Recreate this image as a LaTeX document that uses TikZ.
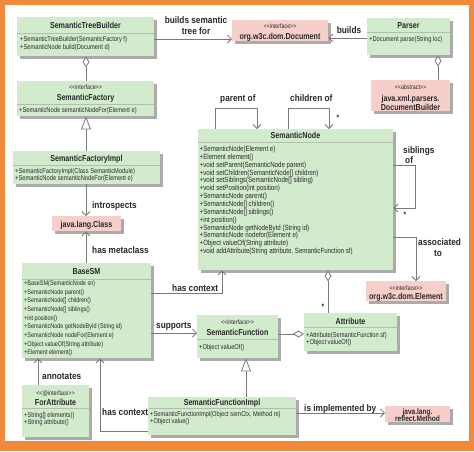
\documentclass[tikz,border=0pt]{standalone}
\usepackage{fontspec}
\setmainfont{Liberation Sans}
\newfontfamily\cfont[FakeStretch=0.82]{Liberation Sans}
\newfontfamily\lfont[FakeStretch=0.87]{Liberation Sans}
\usetikzlibrary{arrows.meta,shadows}
\definecolor{umlgreen}{HTML}{D3EBCD}
\definecolor{umlpink}{HTML}{F6CFCB}
\definecolor{frameorange}{HTML}{F08A3A}
\definecolor{linegray}{HTML}{7A7A7A}
\definecolor{shadowgray}{HTML}{ABABAB}
\definecolor{divgray}{HTML}{AFBFAB}
\definecolor{txt}{HTML}{282828}
\tikzset{
  box/.style={draw=none, fill=umlgreen, inner sep=0pt, anchor=north west,
    drop shadow={shadow xshift=2.5pt, shadow yshift=-2.5pt, fill=shadowgray, opacity=1}},
  pinkbox/.style={box, fill=umlpink},
  divider/.style={draw=divgray, line width=0.6pt},
  ttl/.style={inner sep=0pt, anchor=base, text=txt, font=\cfont\bfseries\fontsize{8.7}{10}\selectfont},
  stereo/.style={inner sep=0pt, anchor=base, text=txt, font=\cfont\fontsize{6.5}{7}\selectfont},
  mtext/.style={inner sep=0pt, anchor=north west, align=left, text=txt},
  lbl/.style={inner sep=0pt, anchor=base west, text=txt, font=\lfont\bfseries\fontsize{9.5}{11}\selectfont},
  mult/.style={inner sep=0pt, text=txt, font=\cfont\bfseries\fontsize{8}{9}\selectfont},
  conn/.style={draw=linegray, line width=0.8pt},
  arr/.style={conn, -{Straight Barb[length=4pt,width=8pt,line width=0.8pt]}},
  dstart/.style={conn, {Diamond[fill=white,length=11pt,width=7pt,line width=0.8pt]}-},
  dend/.style={conn, -{Diamond[fill=white,length=11pt,width=7pt,line width=0.8pt]}},
  tri/.style={conn, -{Triangle[fill=white,length=13pt,width=10pt,line width=0.8pt]}},
}
\newcommand\mfs[1]{\cfont\fontsize{7}{#1}\selectfont}
\newcommand\mfz[2]{\cfont\fontsize{#1}{#2}\selectfont}
\begin{document}
\begin{tikzpicture}[x=1pt,y=-1pt]
\useasboundingbox (0,0) rectangle (474,451);
\fill[frameorange] (0,0) rectangle (474,451);
\fill[white] (5,5) rectangle (469,441);

% ---------- boxes ----------
\node[box, minimum width=137pt, minimum height=39pt] (stb) at (17,17) {};
\draw[divider] (stb.west |- 0,33) -- (stb.east |- 0,33);
\node[ttl] (stbt) at (85.5,28) {SemanticTreeBuilder};
\node[mtext, font=\mfs{8}] (stbm) at (20,36) {+SemanticTreeBuilder(SemanticFactory f)\\+SemanticNode build(Document d)};

\node[box, minimum width=137pt, minimum height=35pt] (sf) at (17,81) {};
\draw[divider] (sf.west |- 0,104) -- (sf.east |- 0,104);
\node[stereo] (sfs) at (85.5,89.3) {<{}<interface>{}>};
\node[ttl] (sft) at (85.5,100.6) {SemanticFactory};
\node[mtext, font=\mfs{8}] (sfm) at (19,107) {+SemanticNode semanticNodeFor(Element e)};

\node[box, minimum width=147pt, minimum height=33pt] (sfi) at (13,151) {};
\draw[divider] (sfi.west |- 0,165) -- (sfi.east |- 0,165);
\node[ttl] (sfit) at (86.5,161) {SemanticFactoryImpl};
\node[mtext, font=\mfs{7.7}] (sfim) at (15,168) {+SemanticFactoryImpl(Class SemanticModule)\\+SemanticNode semanticNodeFor(Element e)};

\node[pinkbox, minimum width=69pt, minimum height=15pt] (jlc) at (52,216) {};
\node[ttl] (jlct) at (86.5,227) {java.lang.Class};

\node[box, minimum width=129pt, minimum height=95pt] (basesm) at (22,263) {};
\draw[divider] (basesm.west |- 0,279) -- (basesm.east |- 0,279);
\node[ttl] (basesmt) at (86.5,274.6) {BaseSM};
\node[mtext, font={\mfz{6.7}{8.67}}] (basesmm) at (24,280.5) {+BaseSM(SemanticNode sn)\\+SemanticNode parent()\\+SemanticNode[] children()\\+SemanticNode[] siblings()\\+int position()\\+SemanticNode getNodeById (String id)\\+SemanticNode nodeFor(Element e)\\+Object valueOf(String attribute)\\+Element element()};

\node[box, minimum width=67pt, minimum height=52pt] (fa) at (22,385) {};
\draw[divider] (fa.west |- 0,408) -- (fa.east |- 0,408);
\node[stereo] (fas) at (55.5,395.3) {<{}<@interface>{}>};
\node[ttl] (fat) at (55.5,405) {ForAttribute};
\node[mtext, font=\mfs{7.5}] (fam) at (24,412) {+String[] elements()\\+String attribute()};

\node[box, minimum width=148pt, minimum height=38pt] (sfimpl) at (148,397) {};
\draw[divider] (sfimpl.west |- 0,408) -- (sfimpl.east |- 0,408);
\node[ttl] (sfimplt) at (222,405.5) {SemanticFunctionImpl};
\node[mtext, font=\mfs{7.3}] (sfimplm) at (150,411) {+SemanticFunctionImpl(Object semCtx, Method m)\\+Object value()};

\node[pinkbox, minimum width=65pt, minimum height=16pt] (jlrm) at (385,406) {};
\node[ttl, font=\cfont\bfseries\fontsize{8}{9}\selectfont] (jlrm1) at (417.5,414.6) {java.lang.};
\node[ttl, font=\cfont\bfseries\fontsize{8}{9}\selectfont] (jlrm2) at (417.5,421.9) {reflect.Method};

\node[box, minimum width=81pt, minimum height=43pt] (sfn) at (197,315) {};
\draw[divider] (sfn.west |- 0,339) -- (sfn.east |- 0,339);
\node[stereo] (sfns) at (237.5,324.3) {<{}<interface>{}>};
\node[ttl] (sfnt) at (237.5,335) {SemanticFunction};
\node[mtext, font=\mfs{8}] (sfnm) at (199,344) {+Object valueOf()};

\node[box, minimum width=93pt, minimum height=38pt] (attr) at (304,313) {};
\draw[divider] (attr.west |- 0,327) -- (attr.east |- 0,327);
\node[ttl] (attrt) at (350.5,324.6) {Attribute};
\node[mtext, font=\mfs{7.3}] (attrm) at (306,332) {+Attribute(SemanticFunction sf)\\+Object valueOf()};

\node[pinkbox, minimum width=80pt, minimum height=20pt] (elem) at (366,281) {};
\node[stereo] (elems) at (406,290.3) {<{}<interface>{}>};
\node[ttl] (elemt) at (406,299.6) {org.w3c.dom.Element};

\node[box, minimum width=195pt, minimum height=141pt] (sn) at (198,129) {};
\draw[divider] (sn.west |- 0,142) -- (sn.east |- 0,142);
\node[ttl] (snt) at (295.5,138) {SemanticNode};
\node[mtext, font={\mfz{7.5}{7.86}}] (snm) at (199.5,145.8) {+SemanticNode(Element e)\\+Element element()\\+void setParent(SemanticNode parent)\\+void setChildren(SemanticNode[] children)\\+void setSiblings(SemanticNode[] sibling)\\+void setPosition(int position)\\+SemanticNode parent()\\+SemanticNode[] children()\\+SemanticNode[] siblings()\\+int position()\\+SemanticNode getNodeById (String id)\\+SemanticNode nodefor(Element e)\\+Object valueOf(String attribute)\\+void addAttribute(String attribute, SemanticFunction sf)};

\node[pinkbox, minimum width=96pt, minimum height=21pt] (doc) at (232,20) {};
\node[stereo] (docs) at (280,28.8) {<{}<interface>{}>};
\node[ttl] (doct) at (280,39.6) {org.w3c.dom.Document};

\node[box, minimum width=83pt, minimum height=37pt] (parser) at (367,18) {};
\draw[divider] (parser.west |- 0,32) -- (parser.east |- 0,32);
\node[ttl] (parsert) at (408.5,28) {Parser};
\node[mtext, font=\mfs{8}] (parserm) at (369,36) {+Document parse(String loc)};

\node[pinkbox, minimum width=79pt, minimum height=31pt] (db) at (371,80) {};
\node[stereo] (dbs) at (410.5,89.3) {<{}<abstract>{}>};
\node[ttl] (db1) at (410.5,101) {java.xml.parsers.};
\node[ttl] (db2) at (410.5,110.6) {DocumentBuilder};

% ---------- connectors ----------
\draw[arr] (stb.east |- 0,39) -- (doc.west |- 0,39);
\node[lbl, anchor=base] (l1a) at (196,23.5) {builds semantic};
\node[lbl, anchor=base] (l1b) at (196,34.5) {tree for};

\draw[arr] (parser.west |- 0,38) -- (doc.east |- 0,38);
\node[lbl, anchor=base] (l2) at (349,33.4) {builds};

\draw[dstart] (stb.south -| 86,0) -- (sf.north -| 86,0);
\draw[tri] (sfi.north -| 86,0) -- (sf.south -| 86,0);

\draw[arr] (sfi.south -| 86,0) -- (jlc.north -| 86,0);
\node[lbl] (l3) at (92,208.4) {introspects};

\draw[arr] (basesm.north -| 86,0) -- (jlc.south -| 86,0);
\node[lbl] (l4) at (92,253.4) {has metaclass};

\draw[arr] (basesm.east |- 0,293) -| (sn.south -| 222,0);
\node[lbl] (l5) at (172,291.4) {has context};

\draw[arr] (basesm.east |- 0,333) -- (sfn.west |- 0,333);
\node[lbl] (l6) at (156,328.4) {supports};

\draw[dend] (sfn.east |- 0,334) -- (attr.west |- 0,334);
\draw[dend] (attr.north -| 328,0) -- (sn.south -| 328,0);
\node[mult] (m1) at (323,307) {*};

\draw[tri] (sfimpl.north -| 246,0) -- (sfn.south -| 246,0);

\draw[arr] (sfimpl.east |- 0,413) -- (jlrm.west |- 0,413);
\node[lbl] (l7) at (304,411.4) {is implemented by};

\draw[arr] (fa.north -| 38,0) -- (basesm.south -| 38,0);
\node[lbl] (l8) at (42,379.4) {annotates};

\draw[arr] (sfimpl.west |- 0,431) -| (basesm.south -| 100,0);
\node[lbl] (l9) at (102,415.4) {has context};

\draw[arr] (sn.north -| 215,0) -- ++(0,-21) -| (sn.north -| 257,0);
\node[lbl] (l10) at (220,101.4) {parent of};

\draw[arr] (sn.north -| 288,0) -- ++(0,-21) -| (sn.north -| 329,0);
\node[lbl] (l11) at (290,101.4) {children of};
\node[mult] (m2) at (338,118) {*};

\draw[arr] (sn.east |- 0,165) -- ++(22,0) |- (sn.east |- 0,208);
\node[lbl] (l12a) at (403,153.4) {siblings};
\node[lbl] (l12b) at (405,163.4) {of};
\node[mult] (m3) at (405,215) {*};

\draw[arr] (sn.east |- 0,237) -| (elem.north -| 416,0);
\node[lbl] (l13a) at (418,245.4) {associated};
\node[lbl, anchor=base] (l13b) at (438,256.4) {to};

\draw[dstart] (parser.south -| 438,0) -- (db.north -| 438,0);
\end{tikzpicture}
\end{document}
